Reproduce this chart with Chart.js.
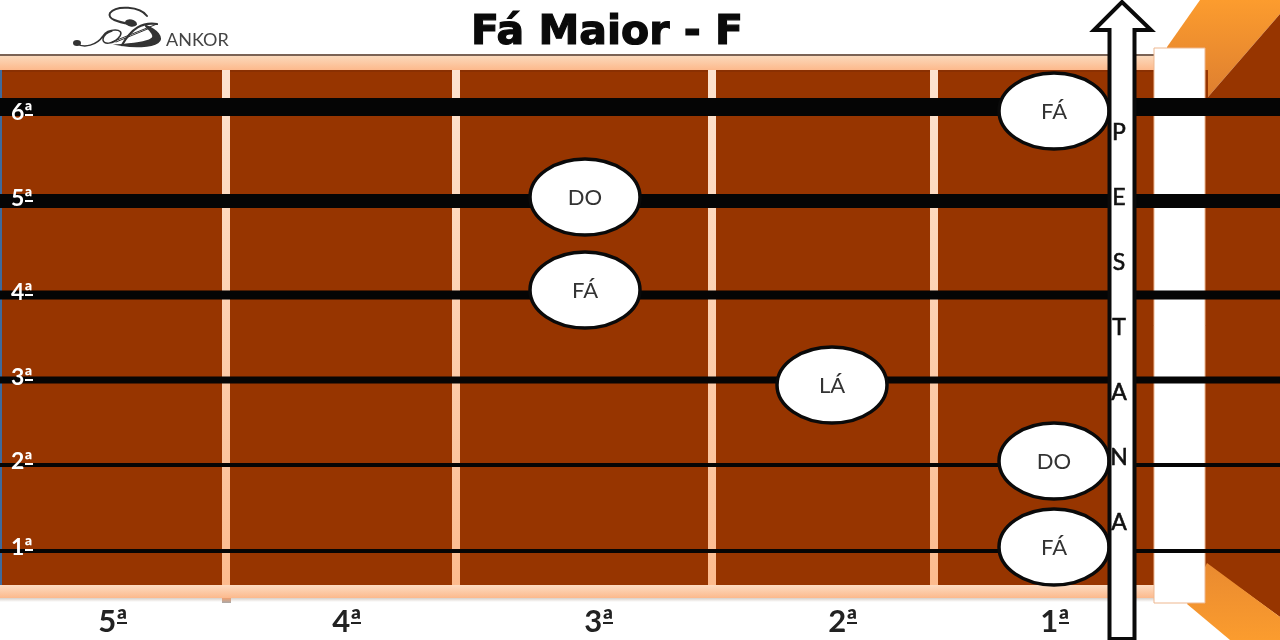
<!DOCTYPE html>
<html>
<head>
<meta charset="utf-8">
<script src="https://cdn.jsdelivr.net/npm/chart.js@4"></script>
<style>
html, body { margin: 0; padding: 0; background: #fff; }
canvas { display: block; }
</style>
</head>
<body>
<canvas id="board" width="1280" height="640"></canvas>
<script>
const stringNames = ["6ª", "5ª", "4ª", "3ª", "2ª", "1ª"];
const stringHeights = [444, 350, 256, 171, 86, 0];
const stringLabelHeights = [438, 352, 258, 173, 89, 3];
const stringWidths = [18, 14, 9, 7, 4, 4];

const fretNames = ["5ª", "4ª", "3ª", "2ª", "1ª"];
const fretLabelDistances = [1015, 781, 529, 285, 73];
const fretWires = [902, 672, 416, 194];

const noteNames = ["FÁ", "DO", "FÁ", "LÁ", "DO", "FÁ"];
const noteDistances = [74, 543, 543, 296, 74, 74];
const noteHeights = [440, 354, 261, 166, 90, 4];

const barreLetters = ["P", "E", "S", "T", "A", "N", "A"];
const barreHeights = [418, 353, 288, 223, 158, 93, 28];

const xLeft = 1128, xRight = -152;
const boardTop = 481, boardBottom = -34;
const wood = "#973500";

function noteImage() {
    const c = document.createElement("canvas");
    c.width = 118;
    c.height = 86;
    const g = c.getContext("2d");
    g.beginPath();
    g.ellipse(59, 43, 55, 38, 0, 0, Math.PI * 2);
    g.fillStyle = "#fff";
    g.fill();
    g.lineWidth = 3.5;
    g.strokeStyle = "#0a0a0a";
    g.stroke();
    return c;
}

function poly(chart, pts, fill, stroke, lw) {
    const c = chart.ctx, sx = chart.scales.x, sy = chart.scales.y;
    c.save();
    c.beginPath();
    pts.forEach((p, i) => {
        const px = sx.getPixelForValue(p[0]), py = sy.getPixelForValue(p[1]);
        if (i === 0) c.moveTo(px, py); else c.lineTo(px, py);
    });
    c.closePath();
    if (fill) { c.fillStyle = fill; c.fill(); }
    if (stroke) { c.lineWidth = lw; c.strokeStyle = stroke; c.lineJoin = "miter"; c.stroke(); }
    c.restore();
}

function rect(chart, x0, x1, y0, y1, fill) {
    poly(chart, [[x0, y0], [x1, y0], [x1, y1], [x0, y1]], fill);
}

function grad(chart, y0, y1, a, b) {
    const g = chart.ctx.createLinearGradient(0, y0, 0, y1);
    g.addColorStop(0, a);
    g.addColorStop(1, b);
    return g;
}

function drawLogo(c) {
    c.save();
    c.strokeStyle = "#333";
    c.fillStyle = "#333";
    c.lineCap = "round";
    c.lineWidth = 2;
    c.beginPath();
    c.moveTo(147, 16);
    c.bezierCurveTo(140, 6, 116, 5, 110, 13);
    c.bezierCurveTo(107, 19, 118, 22, 130, 24);
    c.stroke();
    c.beginPath();
    c.ellipse(131, 23, 6, 3.5, 0.2, 0, Math.PI * 2);
    c.fill();
    c.lineWidth = 1.5;
    c.beginPath();
    c.moveTo(76, 43);
    c.bezierCurveTo(84, 49, 97, 45, 103, 36);
    c.bezierCurveTo(108, 28, 125, 28, 120, 36);
    c.bezierCurveTo(114, 45, 102, 45, 103, 39);
    c.bezierCurveTo(104, 35, 108, 32, 112, 31);
    c.stroke();
    c.beginPath();
    c.ellipse(77, 43, 4, 3, 0, 0, Math.PI * 2);
    c.fill();
    // D: thick stem and bowl
    c.lineWidth = 2.2;
    c.beginPath();
    c.moveTo(157, 24);
    c.bezierCurveTo(142, 22, 132, 28, 122, 45);
    c.stroke();
    c.beginPath();
    c.moveTo(146, 26);
    c.bezierCurveTo(157, 30, 163, 38, 158, 42);
    c.bezierCurveTo(150, 47, 134, 47, 122, 45);
    c.bezierCurveTo(136, 44, 150, 42, 153, 38);
    c.bezierCurveTo(155, 34, 150, 30, 146, 26);
    c.fill();
    c.stroke();
    c.lineWidth = 1;
    c.beginPath();
    c.moveTo(112, 42);
    c.lineTo(157, 24);
    c.moveTo(116, 42);
    c.lineTo(150, 28);
    c.stroke();
    c.restore();
}

const scenery = {
    id: "scenery",
    beforeDatasetsDraw(chart) {
        // orange bands and the wood corners behind the nut
        poly(chart, [[-39, 504], [-72, 551], [-152, 551], [-152, 537], [-80, 454], [-40, 440]], grad(chart, 0, 100, "#fc9c2e", "#dd7e30"));
        poly(chart, [[-80, 454], [-152, 537], [-152, 454]], wood);
        rect(chart, xLeft, -80, boardBottom, boardTop, wood);
        rect(chart, -80, xRight, boardBottom, 454, wood);
        rect(chart, xLeft, -26, boardTop - 2, boardTop, "#8a3002");
        rect(chart, 1128, 1126, boardBottom, boardTop, "#3f6a9c");
        poly(chart, [[-72, -34], [-152, -34], [-152, -66], [-112, -37]], wood);
        poly(chart, [[-79, -12], [-152, -66], [-152, -89], [-102, -89], [-59, -53]], grad(chart, 563, 640, "#e98a30", "#fb9c2e"));

        // top and bottom rails
        rect(chart, xLeft, -26, boardTop + 14, boardTop + 16, "#7b6355");
        rect(chart, xLeft, -26, boardTop, boardTop + 14, grad(chart, 56, 70, "#fbd9bb", "#fdb98c"));
        rect(chart, xLeft, -26, boardBottom - 13, boardBottom, grad(chart, 585, 598, "#fddcc2", "#fcb98c"));
        rect(chart, xLeft, -26, boardBottom - 17, boardBottom - 13, grad(chart, 598, 602, "#d8cfc8", "#ffffff"));
        rect(chart, 906, 897, boardBottom - 18, boardBottom - 13, grad(chart, 598, 603, "#f0a070", "#a9a9a9"));

        // nut
        poly(chart, [[-26, 503], [-77, 503], [-77, -52], [-26, -52]], "#fff", "#eeb78f", 1);
    },
    afterDatasetsDraw(chart) {
        const c = chart.ctx, sx = chart.scales.x, sy = chart.scales.y;

        c.textAlign = "center";
        c.textBaseline = "middle";
        c.font = "22px Lato";
        c.fillStyle = "#333";
        noteNames.forEach((name, i) => {
            c.fillText(name, sx.getPixelForValue(noteDistances[i]), sy.getPixelForValue(noteHeights[i]) + 1);
        });

        poly(chart, [[18.5, -88], [18.5, 521], [34, 521], [6, 549], [-23, 521], [-6.5, 521], [-6.5, -88]], "#fff", "#0a0a0a", 4);

        c.font = "23px Lato";
        c.fillStyle = "#111";
        c.strokeStyle = "#111";
        c.lineWidth = 0.6;
        barreLetters.forEach((letter, i) => {
            const px = sx.getPixelForValue(9), py = sy.getPixelForValue(barreHeights[i]);
            c.fillText(letter, px, py);
            c.strokeText(letter, px, py);
        });

        c.font = "bold 41px 'DejaVu Sans'";
        c.fillStyle = "#0a0a0a";
        c.strokeStyle = "#0a0a0a";
        c.lineWidth = 1.2;
        c.fillText("Fá Maior - F", 607, 33);
        c.strokeText("Fá Maior - F", 607, 33);

        c.font = "18px Lato";
        c.fillStyle = "#444";
        c.textAlign = "left";
        c.textBaseline = "alphabetic";
        c.fillText("ANKOR", 166, 46);
        drawLogo(c);

        // the ordinal marks carry a rule under them in the original face
        c.fillStyle = "#fff";
        stringLabelHeights.forEach(h => c.fillRect(25, sy.getPixelForValue(h) + 1, 8, 2));
        c.fillStyle = "#222";
        fretLabelDistances.forEach(d => c.fillRect(sx.getPixelForValue(d) + 4, 622, 10, 2));
    }
};

const layers = [];

// first entry ends up on top, so the notes go in first
layers.push({
    data: noteDistances.map((x, i) => ({ x: x, y: noteHeights[i] })),
    showLine: false,
    pointStyle: noteImage(),
    pointRadius: 50
});

stringHeights.forEach((h, i) => {
    layers.push({
        data: [{ x: xLeft, y: h }, { x: xRight, y: h }],
        showLine: true,
        borderColor: "#050505",
        borderWidth: stringWidths[i],
        pointRadius: 0
    });
});

const canvas = document.getElementById("board");
const wireColor = canvas.getContext("2d").createLinearGradient(0, 70, 0, 585);
wireColor.addColorStop(0, "#fde3cf");
wireColor.addColorStop(1, "#fcbb8e");

fretWires.forEach(d => {
    layers.push({
        data: [{ x: d, y: boardTop }, { x: d, y: boardBottom }],
        showLine: true,
        borderColor: wireColor,
        borderWidth: 8,
        pointRadius: 0
    });
});

new Chart(canvas, {
    type: "scatter",
    data: { datasets: layers },
    plugins: [scenery],
    options: {
        responsive: false,
        animation: false,
        layout: { padding: 0, autoPadding: false },
        plugins: { legend: { display: false }, tooltip: { enabled: false } },
        scales: {
            x: {
                type: "linear",
                reverse: true,
                min: xRight,
                max: xLeft,
                grid: { display: false },
                border: { display: false },
                afterFit: s => { s.height = 40; },
                afterBuildTicks: s => { s.ticks = fretLabelDistances.map(v => ({ value: v })); },
                ticks: {
                    autoSkip: false,
                    maxRotation: 0,
                    padding: -5,
                    color: "#222",
                    font: { family: "Lato", weight: "bold", size: 31 },
                    callback: (v, i) => fretNames[i]
                }
            },
            y: {
                type: "linear",
                min: -49,
                max: 551,
                grid: { display: false },
                border: { display: false },
                afterFit: s => { s.width = 0; s.paddingTop = 0; s.paddingBottom = 0; },
                afterBuildTicks: s => { s.ticks = stringLabelHeights.map(v => ({ value: v })); },
                ticks: {
                    mirror: true,
                    z: 1,
                    padding: 11,
                    color: "#fff",
                    font: { family: "Lato", weight: "bold", size: 23 },
                    callback: (v, i) => stringNames[i]
                }
            }
        }
    }
});
</script>
</body>
</html>
